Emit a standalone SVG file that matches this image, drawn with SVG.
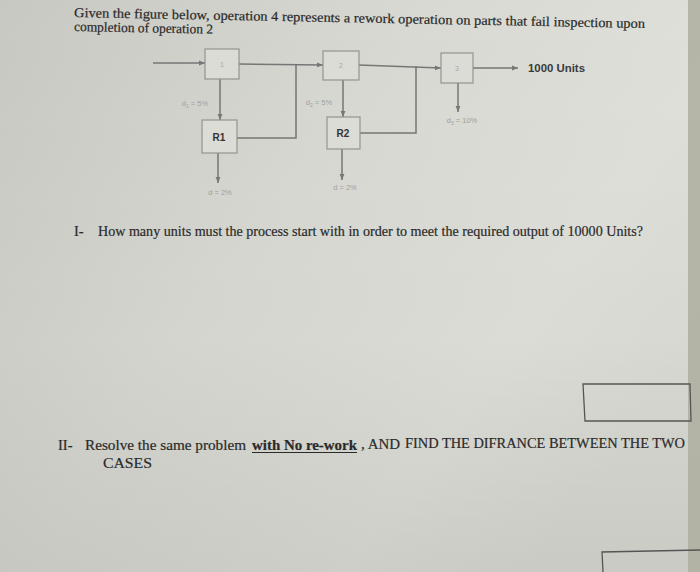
<svg xmlns="http://www.w3.org/2000/svg" width="700" height="572" viewBox="0 0 700 572">
  <defs>
    <linearGradient id="paper" x1="0" y1="0" x2="1" y2="0.6">
      <stop offset="0" stop-color="#c8c8c2"/>
      <stop offset="0.45" stop-color="#d9d9d3"/>
      <stop offset="0.8" stop-color="#e0e0da"/>
      <stop offset="1" stop-color="#dcdcd6"/>
    </linearGradient>
    <linearGradient id="shade" x1="0" y1="0" x2="0" y2="1">
      <stop offset="0" stop-color="#000" stop-opacity="0"/>
      <stop offset="0.6" stop-color="#000" stop-opacity="0.02"/>
      <stop offset="1" stop-color="#000" stop-opacity="0.08"/>
    </linearGradient>
    <marker id="arr" viewBox="0 0 10 10" refX="10" refY="5" markerWidth="6" markerHeight="6" orient="auto" markerUnits="userSpaceOnUse">
      <path d="M0,1 L10,5 L0,9 Z" fill="#777"/>
    </marker>
    <style>
      .q { font-family: "Liberation Serif", "Times New Roman", serif; fill: #2a2a2a; stroke: #2a2a2a; stroke-width: 0.2; }
      .box { fill: #dcdcd6; stroke: #949490; stroke-width: 1.2; }
      .ln { fill: none; stroke: #767676; stroke-width: 1.5; }
      .num { font-family: "Liberation Sans", Arial, sans-serif; font-size: 7px; fill: #a8a8a4; text-anchor: middle; }
      .rl { font-family: "Liberation Sans", Arial, sans-serif; font-size: 10px; font-weight: bold; fill: #333; text-anchor: middle; }
      .dl { font-family: "Liberation Sans", Arial, sans-serif; font-size: 7.5px; fill: #a0a09c; text-anchor: middle; }
      .ans { fill: none; stroke: #555; stroke-width: 1.3; }
    </style>
  </defs>

  <!-- paper -->
  <rect x="0" y="0" width="700" height="572" fill="url(#paper)"/>
  <rect x="0" y="0" width="700" height="572" fill="url(#shade)"/>
  <rect x="688" y="0" width="12" height="572" fill="#aeae9f" opacity="0.85"/>

  <!-- title -->
  <g id="title">
    <text class="q" x="74" y="17" font-size="13.5" textLength="571" lengthAdjust="spacingAndGlyphs" transform="rotate(1.1 74 17)">Given the figure below, operation 4 represents a rework operation on parts that fail inspection upon</text>
    <text class="q" x="74" y="31" font-size="13.5" textLength="139" lengthAdjust="spacingAndGlyphs" transform="rotate(1.1 74 31)">completion of operation 2</text>
  </g>

  <!-- connectors -->
  <g id="connectors">
    <line class="ln" x1="153" y1="63" x2="205" y2="63" marker-end="url(#arr)"/>
    <line class="ln" x1="239" y1="64" x2="323" y2="65" marker-end="url(#arr)"/>
    <line class="ln" x1="359" y1="65" x2="441" y2="68" marker-end="url(#arr)"/>
    <line class="ln" x1="473" y1="68" x2="518" y2="68" marker-end="url(#arr)"/>
    <line class="ln" x1="220" y1="79" x2="220" y2="120" marker-end="url(#arr)"/>
    <line class="ln" x1="343" y1="80" x2="343" y2="117" marker-end="url(#arr)"/>
    <line class="ln" x1="458" y1="83" x2="458" y2="112" marker-end="url(#arr)"/>
    <line class="ln" x1="218" y1="153" x2="218" y2="183" marker-end="url(#arr)"/>
    <line class="ln" x1="342" y1="149" x2="342" y2="180" marker-end="url(#arr)"/>
    <polyline class="ln" points="237,138 296,138 296,64"/>
    <polyline class="ln" points="360,133 416,133 416,66"/>
  </g>

  <!-- nodes -->
  <g id="op1">
    <rect class="box" x="205" y="49" width="34" height="30"/>
    <text class="num" x="222" y="67">1</text>
  </g>
  <g id="op2">
    <rect class="box" x="323" y="51" width="36" height="29"/>
    <text class="num" x="341" y="68">2</text>
  </g>
  <g id="op3">
    <rect class="box" x="441" y="53" width="32" height="30"/>
    <text class="num" x="457" y="71">3</text>
  </g>
  <g id="r1">
    <rect class="box" x="202" y="120" width="35" height="33"/>
    <text class="rl" x="219" y="141">R1</text>
  </g>
  <g id="r2">
    <rect class="box" x="327" y="117" width="33" height="32"/>
    <text class="rl" x="343" y="137">R2</text>
  </g>

  <!-- labels -->
  <g id="labels">
    <text class="dl" x="195" y="106">d<tspan font-size="5" dy="1.5">1</tspan><tspan dy="-1.5"> = 5%</tspan></text>
    <text class="dl" x="319" y="105">d<tspan font-size="5" dy="1.5">2</tspan><tspan dy="-1.5"> = 5%</tspan></text>
    <text class="dl" x="462" y="123">d<tspan font-size="5" dy="1.5">3</tspan><tspan dy="-1.5"> = 10%</tspan></text>
    <text class="dl" x="220" y="195">d  = 2%</text>
    <text class="dl" x="345" y="190">d  = 2%</text>
    <text x="528" y="72" font-family="Liberation Sans, Arial, sans-serif" font-size="10.5" font-weight="bold" fill="#3a3a3a" textLength="57" lengthAdjust="spacingAndGlyphs">1000 Units</text>
  </g>

  <!-- question I -->
  <g id="question1">
    <text class="q" x="74" y="236" font-size="14.5">I-</text>
    <text class="q" x="98" y="236" font-size="14.5" textLength="545" lengthAdjust="spacingAndGlyphs">How many units must the process start with in order to meet the required output of 10000 Units?</text>
  </g>

  <!-- answer box 1 -->
  <path class="ans" d="M583,384 L690,384 L691,421 L585,421 Z"/>

  <!-- question II -->
  <g id="question2">
    <text class="q" x="58" y="450" font-size="14.5">II-</text>
    <text class="q" x="85" y="450" font-size="14.5" textLength="161" lengthAdjust="spacingAndGlyphs">Resolve the same problem</text>
    <text class="q" x="252" y="450" font-size="14.5" font-weight="bold" textLength="105" lengthAdjust="spacingAndGlyphs">with No re-work</text>
    <line x1="252" y1="452.5" x2="357" y2="452.5" stroke="#2a2a2a" stroke-width="1.2"/>
    <text class="q" x="361" y="449" font-size="14.5" textLength="39" lengthAdjust="spacingAndGlyphs">, AND</text>
    <text class="q" x="405" y="448" font-size="14.5" textLength="280" lengthAdjust="spacingAndGlyphs">FIND THE DIFRANCE BETWEEN THE TWO</text>
    <text class="q" x="103" y="468" font-size="14.5" textLength="49" lengthAdjust="spacingAndGlyphs">CASES</text>
  </g>

  <!-- answer box 2 (partial) -->
  <path class="ans" d="M700,550 L602,552 L603,572"/>
</svg>
